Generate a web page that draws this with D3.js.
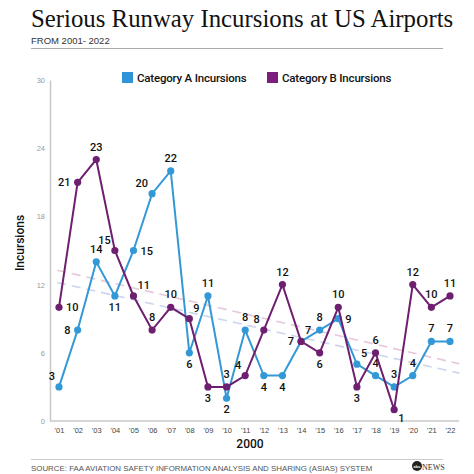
<!DOCTYPE html>
<html>
<head>
<meta charset="utf-8">
<script src="https://cdn.jsdelivr.net/npm/d3@7"></script>
<style>
  html, body { margin: 0; padding: 0; background: #fff; }
  svg { display: block; }
</style>
</head>
<body>
<div id="chart"></div>
<script>
// data
const years = ["'01","'02","'03","'04","'05","'06","'07","'08","'09","'10","'11",
               "'12","'13","'14","'15","'16","'17","'18","'19","'20","'21","'22"];
const catA = [3, 8, 14, 11, 15, 20, 22, 6, 11, 2, 8, 4, 4, 7, 8, 9, 5, 4, 3, 4, 7, 7];
const catB = [10, 21, 23, 15, 11, 8, 10, 9, 3, 3, 4, 8, 12, 7, 6, 10, 3, 6, 1, 12, 10, 11];
const yTicks = [0, 6, 12, 18, 24, 30];
// where each value label sits relative to its dot
const labelPosA = ['tl','l','t','b','r','tl','t','b','t','b','t','b','b','tr','t','r','tr','t','t','t','t','t'];
const labelPosB = ['r','l','t','tl','tr','t','t','tr','b','t','tl','tl','t','l','b','t','b','t','br','t','t','t'];

const W = 474, H = 474;
const colA = '#3399d6', colB = '#6e1f70';

const svg = d3.select('#chart').append('svg')
    .attr('width', W).attr('height', H);

// title block
svg.append('text')
    .attr('x', 31).attr('y', 27)
    .style('font-family', '"Liberation Serif", "DejaVu Serif", serif')
    .style('font-size', '24.8px')
    .style('fill', '#111')
    .text('Serious Runway Incursions at US Airports');

svg.append('text')
    .attr('x', 31).attr('y', 44)
    .style('font-family', '"Liberation Sans", Arial, sans-serif')
    .style('font-size', '9.5px')
    .style('fill', '#333')
    .text('FROM 2001- 2022');

svg.append('line')
    .attr('x1', 31).attr('x2', 443).attr('y1', 48.5).attr('y2', 48.5)
    .style('stroke', '#aaa').style('stroke-width', 1.2);

// scales
const x = d3.scalePoint().domain(years).range([59, 450]);
const y = d3.scaleLinear().domain([0, 30]).range([421, 80]);

// axes
const yAxis = svg.append('g')
    .attr('transform', 'translate(50,0)')
    .call(d3.axisLeft(y).tickValues(yTicks).tickSize(0).tickPadding(5));
yAxis.select('.domain').style('stroke', '#c8c8c8').style('stroke-width', 1.5);
yAxis.selectAll('text')
    .style('font-family', '"Liberation Sans", Arial, sans-serif')
    .style('font-size', '7.5px').style('fill', '#999');

const xAxis = svg.append('g')
    .attr('transform', 'translate(0,421)')
    .call(d3.axisBottom(x).tickSize(0).tickPadding(7));
xAxis.select('.domain').attr('d', 'M50,0H459').style('stroke', '#c8c8c8').style('stroke-width', 1.5);
xAxis.selectAll('text')
    .style('font-family', '"Liberation Sans", Arial, sans-serif')
    .style('font-size', '7.5px').style('fill', '#444');

// axis titles
svg.append('text')
    .attr('transform', 'translate(24,243) rotate(-90)')
    .attr('text-anchor', 'middle')
    .style('font-family', 'Roboto, "Liberation Sans", sans-serif')
    .style('font-weight', 500)
    .style('font-size', '12px').style('fill', '#111')
    .text('Incursions');

svg.append('text')
    .attr('x', 250).attr('y', 448)
    .attr('text-anchor', 'middle')
    .style('font-family', 'Roboto, "Liberation Sans", sans-serif')
    .style('font-weight', 500)
    .style('font-size', '12px').style('fill', '#111')
    .text('2000');

// trend lines (least squares fit on each series)
function fit(vals) {
    const n = vals.length;
    const xs = d3.range(n);
    const mx = d3.mean(xs), my = d3.mean(vals);
    const sxy = d3.sum(xs, i => (i - mx) * (vals[i] - my));
    const sxx = d3.sum(xs, i => (i - mx) * (i - mx));
    const b = sxy / sxx;
    return i => my + b * (i - mx);
}
const step = x.step();
[[catB, '#e6c6dc'], [catA, '#ccd4ee']].forEach(([vals, c]) => {
    const f = fit(vals);
    const i0 = -0.1, i1 = years.length - 1 + 0.5;
    svg.append('line')
        .attr('x1', x(years[0]) + i0 * step).attr('y1', y(f(i0)))
        .attr('x2', x(years[0]) + i1 * step).attr('y2', y(f(i1)))
        .style('stroke', c).style('stroke-width', 1.6)
        .style('stroke-dasharray', '9,6');
});

// series
const line = d3.line().x((d, i) => x(years[i])).y(d => y(d));
const offsets = {
    t: [0, -9, 'middle'], b: [0, 15, 'middle'], l: [-7, 4, 'end'], r: [7, 4, 'start'],
    tl: [-4, -7, 'end'], tr: [4, -7, 'start'], br: [4, 12, 'start']
};

function drawSeries(vals, pos, c) {
    svg.append('path')
        .datum(vals)
        .attr('d', line)
        .style('fill', 'none').style('stroke', c).style('stroke-width', 2);
    svg.selectAll(null).data(vals).enter().append('circle')
        .attr('cx', (d, i) => x(years[i]))
        .attr('cy', d => y(d))
        .attr('r', 3.6)
        .style('fill', c);
    svg.selectAll(null).data(vals).enter().append('text')
        .attr('x', (d, i) => x(years[i]) + offsets[pos[i]][0])
        .attr('y', (d, i) => y(d) + offsets[pos[i]][1])
        .attr('text-anchor', (d, i) => offsets[pos[i]][2])
        .style('font-family', 'Roboto, "Liberation Sans", sans-serif')
        .style('font-weight', 500)
        .style('font-size', '11px').style('fill', '#111')
        .text(d => d);
}
drawSeries(catA, labelPosA, colA);
drawSeries(catB, labelPosB, colB);

// legend
const legend = [['Category A Incursions', '#2f95d8', 122], ['Category B Incursions', '#7b1f7f', 267]];
legend.forEach(([name, c, lx]) => {
    svg.append('rect')
        .attr('x', lx).attr('y', 72).attr('width', 11).attr('height', 11)
        .style('fill', c);
    svg.append('text')
        .attr('x', lx + 15).attr('y', 82)
        .style('font-family', 'Roboto, "Liberation Sans", sans-serif')
        .style('font-weight', 500)
        .style('font-size', '11.5px').style('fill', '#111')
        .style('letter-spacing', '-0.2px')
        .text(name);
});

// footer
svg.append('line')
    .attr('x1', 31).attr('x2', 443).attr('y1', 459.5).attr('y2', 459.5)
    .style('stroke', '#ccc').style('stroke-width', 1);
svg.append('text')
    .attr('x', 31).attr('y', 471)
    .style('font-family', '"Liberation Sans", Arial, sans-serif')
    .style('font-size', '7.9px').style('fill', '#555')
    .text('SOURCE: FAA AVIATION SAFETY INFORMATION ANALYSIS AND SHARING (ASIAS) SYSTEM');

svg.append('circle')
    .attr('cx', 417).attr('cy', 466).attr('r', 5)
    .style('fill', '#222');
svg.append('text')
    .attr('x', 417).attr('y', 467.5)
    .attr('text-anchor', 'middle')
    .style('font-family', '"Liberation Sans", Arial, sans-serif')
    .style('font-size', '4px').style('font-weight', 'bold').style('fill', '#fff')
    .text('abc');
svg.append('text')
    .attr('x', 422).attr('y', 469.5)
    .style('font-family', '"Liberation Serif", serif')
    .style('font-size', '8px').style('fill', '#333')
    .text('NEWS');
</script>
</body>
</html>
